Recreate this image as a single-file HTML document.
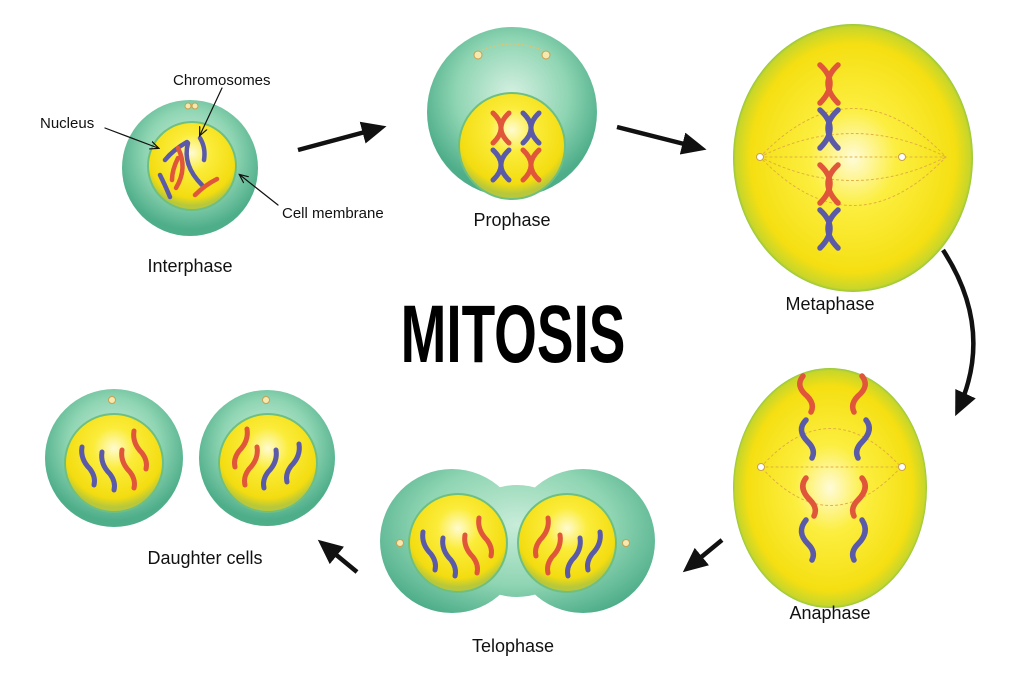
<!DOCTYPE html>
<html><head><meta charset="utf-8"><style>
html,body{margin:0;padding:0;background:#fff}
svg{display:block}
text{font-family:"Liberation Sans",sans-serif;fill:#111}
</style></head><body>
<svg width="1024" height="683" viewBox="0 0 1024 683" xmlns="http://www.w3.org/2000/svg">
<defs>
<radialGradient id="cyto" cx="50%" cy="40%" r="55%">
<stop offset="0" stop-color="#d6f0e2"/><stop offset="0.6" stop-color="#8fd5b3"/><stop offset="1" stop-color="#4fae8a"/></radialGradient>
<radialGradient id="telo" gradientUnits="userSpaceOnUse" cx="517" cy="525" r="100" gradientTransform="translate(517 525) scale(1.6 1) translate(-517 -525)">
<stop offset="0" stop-color="#c8ecd8"/><stop offset="0.6" stop-color="#8fd5b3"/><stop offset="1" stop-color="#4fae8a"/></radialGradient>
<radialGradient id="nuc" cx="50%" cy="35%" r="60%">
<stop offset="0" stop-color="#fffbd0"/><stop offset="0.35" stop-color="#fbec3a"/><stop offset="0.85" stop-color="#f3dc10"/><stop offset="1" stop-color="#b8c83a"/></radialGradient>
<radialGradient id="big" cx="50%" cy="50%" r="52%">
<stop offset="0" stop-color="#fffbd8"/><stop offset="0.35" stop-color="#fcee40"/><stop offset="0.82" stop-color="#f5df12"/><stop offset="0.94" stop-color="#c8d62a"/><stop offset="1" stop-color="#3fae5a"/></radialGradient>
<marker id="ah" markerWidth="6" markerHeight="6" refX="4" refY="3" orient="auto" markerUnits="strokeWidth">
<path d="M0,0.5 L5.5,3 L0,5.5 z" fill="#111"/></marker>
<marker id="ah2" markerWidth="10" markerHeight="10" refX="8" refY="5" orient="auto" markerUnits="userSpaceOnUse">
<path d="M0,1 L9,5 L0,9" fill="none" stroke="#111" stroke-width="1.2"/></marker>
</defs>
<g stroke-linecap="round" fill="none">

<!-- Interphase -->
<circle cx="190" cy="168" r="68" fill="url(#cyto)"/>
<circle cx="192" cy="166" r="44" fill="url(#nuc)" stroke="#6fbf80" stroke-width="2"/>
<g stroke-width="4.5">
<path d="M165,160 q8,-10 22,-18" stroke="#5a5aa8"/>
<path d="M160,175 q5,10 10,22" stroke="#5a5aa8"/>
<path d="M178,148 q10,20 -2,40" stroke="#e0563a"/>
<path d="M188,143 q-6,22 14,42" stroke="#5a5aa8"/>
<path d="M200,138 q6,10 4,22" stroke="#5a5aa8"/>
<path d="M195,195 q10,-10 22,-16" stroke="#e0563a"/>
<path d="M172,180 q0,-10 6,-22" stroke="#e0563a"/>
</g>
<circle cx="188" cy="106" r="3" fill="#f5e9b0" stroke="#c8a050"/>
<circle cx="195" cy="106" r="3" fill="#f5e9b0" stroke="#c8a050"/>
<path d="M105,128 L158,148" stroke="#111" stroke-width="1.2" marker-end="url(#ah2)"/>
<path d="M222,88 L200,135" stroke="#111" stroke-width="1.2" marker-end="url(#ah2)"/>
<path d="M278,205 L240,175" stroke="#111" stroke-width="1.2" marker-end="url(#ah2)"/>

<!-- Prophase -->
<circle cx="512" cy="112" r="85" fill="url(#cyto)"/>
<circle cx="512" cy="146" r="53" fill="url(#nuc)" stroke="#6fbf80" stroke-width="2"/>
<g stroke-width="5">
<path d="M493,113 q16,15 0,30 M509,113 q-16,15 0,30" stroke="#e0563a"/>
<path d="M523,113 q16,15 0,30 M539,113 q-16,15 0,30" stroke="#5a5aa8"/>
<path d="M493,150 q16,15 0,30 M509,150 q-16,15 0,30" stroke="#5a5aa8"/>
<path d="M523,150 q16,15 0,30 M539,150 q-16,15 0,30" stroke="#e0563a"/>
</g>
<circle cx="478" cy="55" r="4" fill="#f5e9b0" stroke="#c8a050"/>
<circle cx="546" cy="55" r="4" fill="#f5e9b0" stroke="#c8a050"/>
<path d="M482,50 q30,-12 60,0" stroke="#e6c26a" stroke-dasharray="2 2"/>

<!-- Metaphase -->
<ellipse cx="853" cy="158" rx="120" ry="134" fill="url(#big)"/>
<g stroke="#e0b040" stroke-width="1" stroke-dasharray="2 3">
<path d="M760,157 Q853,60 946,157 Q853,254 760,157"/>
<path d="M760,157 Q853,110 946,157 Q853,204 760,157"/>
<path d="M760,157 L946,157"/>
</g>
<g stroke-width="5.5">
<path d="M820,65 q20,18 0,38 M838,65 q-20,18 0,38" stroke="#e0563a"/>
<path d="M820,110 q20,18 0,38 M838,110 q-20,18 0,38" stroke="#5a5aa8"/>
<path d="M820,165 q20,18 0,38 M838,165 q-20,18 0,38" stroke="#e0563a"/>
<path d="M820,210 q20,18 0,38 M838,210 q-20,18 0,38" stroke="#5a5aa8"/>
</g>
<circle cx="760" cy="157" r="3.5" fill="#fff" stroke="#c8a050"/>
<circle cx="902" cy="157" r="3.5" fill="#fff" stroke="#c8a050"/>

<!-- Anaphase -->
<ellipse cx="830" cy="488" rx="97" ry="120" fill="url(#big)"/>
<g stroke="#e0b040" stroke-width="1" stroke-dasharray="2 3">
<path d="M761,467 Q830,390 901,467 Q830,544 761,467"/>
<path d="M761,467 L901,467"/>
</g>
<g stroke-width="5.5">
<path d="M803,376 q-8,10 4,20 q8,8 4,16" stroke="#e0563a"/>
<path d="M862,376 q8,10 -4,20 q-8,8 -4,16" stroke="#e0563a"/>
<path d="M806,420 q-10,10 2,22 q8,8 4,16" stroke="#5a5aa8"/>
<path d="M866,420 q8,10 -4,22 q-8,8 -4,16" stroke="#5a5aa8"/>
<path d="M806,478 q-8,10 4,22 q8,8 4,16" stroke="#e0563a"/>
<path d="M862,478 q8,10 -4,22 q-8,8 -4,16" stroke="#e0563a"/>
<path d="M806,520 q-10,12 2,24 q8,8 4,16" stroke="#5a5aa8"/>
<path d="M862,520 q8,12 -4,24 q-8,8 -4,16" stroke="#5a5aa8"/>
</g>
<circle cx="761" cy="467" r="3.5" fill="#fff" stroke="#c8a050"/>
<circle cx="902" cy="467" r="3.5" fill="#fff" stroke="#c8a050"/>

<!-- Telophase -->
<g fill="url(#telo)">
<circle cx="452" cy="541" r="72"/>
<circle cx="583" cy="541" r="72"/>
<ellipse cx="517" cy="541" rx="62" ry="56"/>
</g>
<circle cx="458" cy="543" r="49" fill="url(#nuc)" stroke="#6fbf80" stroke-width="2"/>
<circle cx="567" cy="543" r="49" fill="url(#nuc)" stroke="#6fbf80" stroke-width="2"/>
<g stroke-width="5">
<path d="M423,532 q-2,12 8,22 q6,8 4,16" stroke="#5a5aa8"/>
<path d="M443,538 q-2,12 8,22 q6,8 4,16" stroke="#5a5aa8"/>
<path d="M465,535 q-2,12 8,22 q6,8 4,16" stroke="#e0563a"/>
<path d="M479,518 q-2,12 8,22 q6,8 4,16" stroke="#e0563a"/>
<path d="M548,518 q2,12 -8,22 q-6,8 -4,16" stroke="#e0563a"/>
<path d="M560,535 q2,12 -8,22 q-6,8 -4,16" stroke="#e0563a"/>
<path d="M580,538 q2,12 -8,22 q-6,8 -4,16" stroke="#5a5aa8"/>
<path d="M600,532 q2,12 -8,22 q-6,8 -4,16" stroke="#5a5aa8"/>
</g>
<circle cx="400" cy="543" r="3.5" fill="#f5e9b0" stroke="#c8a050"/>
<circle cx="626" cy="543" r="3.5" fill="#f5e9b0" stroke="#c8a050"/>

<!-- Daughter cells -->
<circle cx="114" cy="458" r="69" fill="url(#cyto)"/>
<circle cx="114" cy="463" r="49" fill="url(#nuc)" stroke="#6fbf80" stroke-width="2"/>
<circle cx="267" cy="458" r="68" fill="url(#cyto)"/>
<circle cx="268" cy="463" r="49" fill="url(#nuc)" stroke="#6fbf80" stroke-width="2"/>
<g stroke-width="5">
<path d="M82,447 q-2,12 8,22 q6,8 4,16" stroke="#5a5aa8"/>
<path d="M102,452 q-2,12 8,22 q6,8 4,16" stroke="#5a5aa8"/>
<path d="M122,450 q-2,12 8,22 q6,8 4,16" stroke="#e0563a"/>
<path d="M134,431 q-2,12 8,22 q6,8 4,16" stroke="#e0563a"/>
<path d="M247,429 q2,12 -8,22 q-6,8 -4,16" stroke="#e0563a"/>
<path d="M257,447 q2,12 -8,22 q-6,8 -4,16" stroke="#e0563a"/>
<path d="M276,450 q2,12 -8,22 q-6,8 -4,16" stroke="#5a5aa8"/>
<path d="M299,444 q2,12 -8,22 q-6,8 -4,16" stroke="#5a5aa8"/>
</g>
<circle cx="112" cy="400" r="3.5" fill="#f5e9b0" stroke="#c8a050"/>
<circle cx="266" cy="400" r="3.5" fill="#f5e9b0" stroke="#c8a050"/>

<!-- Arrows -->
<g stroke="#111" stroke-width="4.5" stroke-linecap="butt">
<path d="M298,150 L380,128" marker-end="url(#ah)"/>
<path d="M617,127 L700,148" marker-end="url(#ah)"/>
<path d="M943,250 Q995,330 958,410" marker-end="url(#ah)"/>
<path d="M722,540 L688,568" marker-end="url(#ah)"/>
<path d="M357,572 L323,544" marker-end="url(#ah)"/>
</g>
</g>

<text x="40" y="128" font-size="15">Nucleus</text>
<text x="173" y="85" font-size="15">Chromosomes</text>
<text x="282" y="218" font-size="15">Cell membrane</text>
<text x="190" y="272" font-size="18" text-anchor="middle">Interphase</text>
<text x="512" y="226" font-size="18" text-anchor="middle">Prophase</text>
<text x="830" y="310" font-size="18" text-anchor="middle">Metaphase</text>
<text x="830" y="619" font-size="18" text-anchor="middle">Anaphase</text>
<text x="513" y="652" font-size="18" text-anchor="middle">Telophase</text>
<text x="205" y="564" font-size="18" text-anchor="middle">Daughter cells</text>
<text x="0" y="0" font-size="82" font-weight="bold" text-anchor="middle" transform="translate(513,362) scale(0.67,1)" style="fill:#000">MITOSIS</text>
</svg>
</body></html>
